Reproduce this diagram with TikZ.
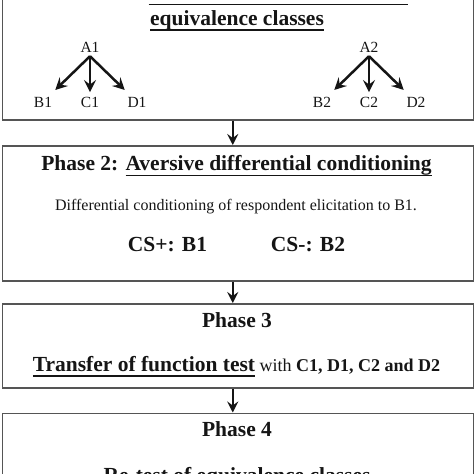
\documentclass[tikz,border=0pt]{standalone}
\usepackage{fontspec}
\setmainfont{Liberation Serif}
\usetikzlibrary{arrows.meta}
\definecolor{boxgray}{HTML}{555555}
\definecolor{ink}{HTML}{151515}
\newcommand\ulx[1]{\setbox0\hbox{#1}\rlap{\rule[-5.8pt]{\wd0}{1.7pt}}\box0}
\newcommand\bigb{\fontsize{21.5}{26}\selectfont\bfseries}
\begin{document}
\begin{tikzpicture}[x=1pt,y=-1pt,
  box/.style={draw=boxgray, line width=1.5pt, minimum width=471pt, anchor=north west, inner sep=0pt},
  txt/.style={anchor=base, inner sep=0pt, text=ink},
  lbl/.style={anchor=base, inner sep=1pt, text=ink, font=\fontsize{15.5}{18}\selectfont},
  arr/.style={line width=2.5pt, draw=ink, -{Stealth[length=12pt,width=12pt,inset=4.5pt]}},
  flow/.style={line width=2.3pt, draw=ink, -{Stealth[length=11pt,width=11pt,inset=4pt]}}]
\useasboundingbox (0,0) rectangle (474,474);
\clip (0,0) rectangle (474,474);
\fill[white] (0,0) rectangle (474,474);

% boxes
\node[box, minimum height=149pt] (box1) at (1.5,-30) {};
\node[box, minimum height=135pt] (box2) at (1.5,145) {};
\node[box, minimum height=84pt] (box3) at (1.5,303) {};
\node[box, minimum height=108pt] (box4) at (1.5,412.5) {};

% phase 1
\node[txt, font=\bigb] (t1a) at (236.5,-0.5) {Phase 1: \ulx{Formation of two 4-member}};
\node[txt, font=\bigb] (t1b) at (237,25) {\ulx{equivalence classes}};
\node[lbl] (a1) at (90,52) {A1};
\node[lbl] (b1) at (43,107) {B1};
\node[lbl] (c1) at (90,107) {C1};
\node[lbl] (d1) at (137,107) {D1};
\node[lbl] (a2) at (369,52) {A2};
\node[lbl] (b2) at (322,107) {B2};
\node[lbl] (c2) at (369,107) {C2};
\node[lbl] (d2) at (416,107) {D2};
\draw[arr, shorten >=8pt] ([yshift=-3pt]a1.south) -- (b1);
\draw[arr, shorten >=3.5pt] ([yshift=-3pt]a1.south) -- (c1);
\draw[arr, shorten >=8pt] ([yshift=-3pt]a1.south) -- (d1);
\draw[arr, shorten >=8pt] ([yshift=-3pt]a2.south) -- (b2);
\draw[arr, shorten >=3.5pt] ([yshift=-3pt]a2.south) -- (c2);
\draw[arr, shorten >=8pt] ([yshift=-3pt]a2.south) -- (d2);

% phase 2
\node[txt, font=\bigb] (t2) at (236.5,170.5) {Phase 2: \ulx{Aversive differential conditioning}};
\node[txt, font=\fontsize{16}{19}\selectfont] (t2b) at (236,210) {Differential conditioning of respondent elicitation to B1.};
\node[txt, font=\bigb] (csp) at (167.5,251.5) {CS+: B1};
\node[txt, font=\bigb] (csm) at (308,251.5) {CS-: B2};

% phase 3
\node[txt, font=\bigb] (t3) at (237,327.5) {Phase 3};
\node[txt, font=\bigb] (t3b) at (236.5,371) {\ulx{Transfer of function test}\fontsize{18}{21}\selectfont\ \mdseries with \bfseries C1, D1, C2 and D2};

% phase 4
\node[txt, font=\bigb] (t4) at (237,436.5) {Phase 4};
\node[txt, font=\bigb] (t4b) at (237,482) {Re-test of equivalence classes};

% flow arrows
\draw[flow] ([xshift=-5pt]box1.south) -- ([xshift=-5pt]box2.north);
\draw[flow] ([xshift=-5pt]box2.south) -- ([xshift=-5pt]box3.north);
\draw[flow] ([xshift=-5pt]box3.south) -- ([xshift=-5pt]box4.north);
\end{tikzpicture}
\end{document}
